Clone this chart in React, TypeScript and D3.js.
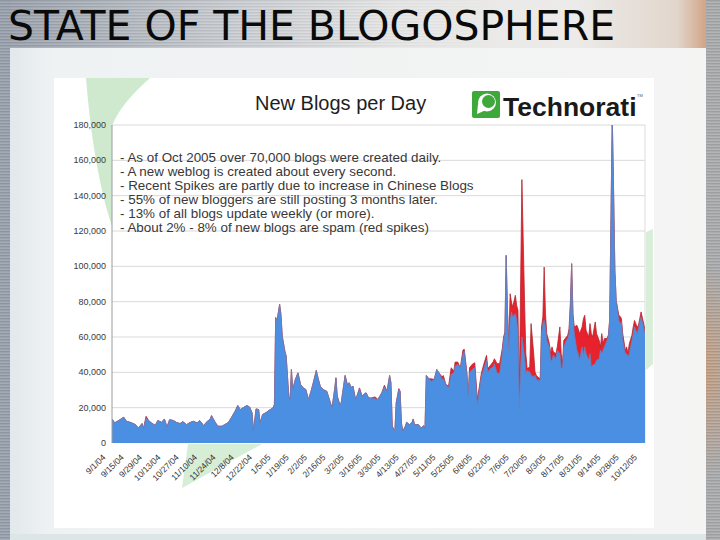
import React from 'react';
import * as d3 from 'd3';

// ---- data ----
const START = new Date(Date.UTC(2004, 8, 1)); // 9/1/04
const dayIndex = [
  0, 2, 5, 9, 11, 14, 18, 20, 23, 24, 26, 28, 30, 33, 35, 38, 40, 42, 44, 47,
  49, 52, 54, 57, 59, 62, 65, 67, 70, 72, 75, 76, 79, 81, 84, 86, 89, 91, 94, 96,
  98, 100, 103, 105, 107, 108, 110, 112, 113, 115, 118, 120, 123, 124, 125, 126, 128, 129, 130, 132,
  133, 135, 136, 137, 138, 140, 142, 144, 146, 148, 150, 152, 154, 156, 157, 159, 161, 164, 166, 168,
  170, 171, 172, 174, 175, 178, 180, 181, 183, 184, 186, 187, 189, 191, 192, 194, 196, 198, 201, 203,
  206, 208, 210, 212, 213, 214, 216, 217, 219, 220, 221, 222, 224, 225, 227, 229, 230, 231, 234, 236,
  238, 239, 240, 242, 244, 246, 248, 250, 252, 253, 255, 257, 259, 261, 262, 264, 266, 268, 269, 271,
  272, 273, 275, 277, 279, 282, 284, 286, 287, 289, 291, 292, 294, 296, 298, 299, 300, 301, 302, 303,
  304, 305, 306, 308, 309, 310, 311, 312, 313, 315, 316, 317, 319, 320, 322, 323, 324, 325, 327, 328,
  329, 330, 331, 332, 334, 335, 336, 337, 339, 340, 342, 343, 344, 345, 347, 348, 349, 350, 351, 352,
  353, 355, 356, 357, 359, 360, 361, 362, 364, 365, 366, 367, 369, 370, 372, 373, 374, 375, 376, 378,
  379, 380, 381, 382, 383, 384, 385, 387, 388, 389, 390, 392, 393, 394, 395, 397, 398, 399, 401, 402,
  403, 404, 406, 407,
];
// new blogs per day, without spam (blue)
const newBlogs = [
  13600, 11400, 12700, 14600, 12300, 11700, 10400, 8500, 11000, 8000, 14000, 12700, 11400, 10000, 12700, 11700, 13600, 9100, 13200, 12700,
  11700, 11000, 12100, 10400, 11400, 12300, 11400, 12700, 9800, 11700, 13600, 15500, 11400, 9500, 9500, 10400, 11700, 14200, 18000, 21200,
  18900, 19900, 21200, 20400, 17000, 6600, 19300, 18900, 11400, 16100, 17400, 18500, 19900, 21800, 71000, 69100, 78500, 72800, 60500, 52000,
  49200, 26500, 24600, 41600, 30300, 36000, 39700, 33100, 31200, 30300, 24600, 29300, 35000, 41100, 37800, 32200, 30300, 29300, 24600, 19900,
  30300, 36900, 26500, 21800, 22700, 38200, 32200, 34100, 31200, 32200, 24600, 26500, 30700, 26500, 27400, 28400, 25500, 25500, 25000, 24600,
  28400, 31800, 29300, 38200, 34100, 9500, 6600, 22700, 30300, 29300, 11400, 6600, 9500, 11700, 10400, 11400, 13600, 10400, 10400, 8500,
  9800, 8500, 38200, 36300, 35000, 36000, 41600, 39400, 36000, 36300, 33100, 31200, 38800, 39700, 43500, 44500, 42600, 50100, 52000, 38800,
  26500, 39700, 41600, 42600, 21800, 37400, 42100, 46800, 40200, 42100, 43000, 44900, 39600, 39300, 50600, 58100, 61900, 106200, 73200, 52500,
  69400, 74200, 71300, 73200, 69400, 61900, 20400, 41100, 60000, 48700, 39300, 41100, 40200, 38300, 37400, 38300, 36400, 35500, 35500, 61900,
  67600, 69400, 65700, 58100, 54400, 46800, 46800, 49600, 47700, 52500, 50600, 42100, 43000, 54400, 58100, 59100, 61900, 77000, 101500, 71300,
  61900, 52500, 50600, 46800, 54400, 49600, 54400, 50600, 46800, 50600, 43000, 44000, 44900, 46800, 47700, 52500, 50600, 52500, 54400, 58100,
  60000, 69400, 126100, 185000, 143000, 97800, 80800, 69400, 67600, 68500, 58100, 50600, 50600, 48700, 50600, 58100, 61900, 65700, 61900, 64700,
  68500, 71300, 65700, 61900,
];
// all new blogs per day, spam included (top of red)
const withSpam = [
  13600, 11400, 12700, 14600, 12300, 11700, 10400, 8500, 11000, 8000, 15100, 12700, 11400, 10000, 12700, 11700, 13600, 9100, 13200, 12700,
  11700, 11000, 12100, 10400, 11400, 12300, 11400, 12700, 9800, 11700, 13600, 15500, 11400, 9500, 9500, 10400, 11700, 14200, 18000, 21200,
  18900, 19900, 21200, 20400, 17000, 6600, 19300, 18900, 11400, 16100, 17400, 18500, 19900, 21800, 71000, 69100, 78500, 72800, 60500, 52000,
  49200, 26500, 24600, 41600, 30300, 36000, 39700, 33100, 31200, 30300, 24600, 29300, 35000, 41100, 37800, 32200, 30300, 29300, 24600, 19900,
  30300, 36900, 26500, 21800, 22700, 38200, 32200, 34100, 31200, 32200, 24600, 26500, 31200, 26500, 27400, 28400, 25500, 25500, 26100, 24600,
  28400, 32700, 29300, 38200, 34100, 9500, 6600, 22700, 30800, 29300, 11400, 6600, 9500, 11700, 10400, 11400, 13600, 10400, 10400, 8500,
  9800, 8500, 38200, 36300, 36300, 36000, 41600, 39400, 37500, 38200, 33100, 32200, 42600, 40700, 45800, 45800, 42600, 52600, 53000, 39700,
  26500, 42600, 44500, 45400, 24600, 39300, 44900, 49600, 42100, 44000, 45900, 47700, 44900, 44900, 53400, 60000, 62800, 106200, 75100, 56200,
  84500, 79800, 77000, 83600, 77900, 75100, 27900, 88300, 149100, 80800, 50600, 42100, 43000, 67600, 50600, 40200, 38300, 37400, 36400, 65700,
  71300, 99600, 73200, 61900, 56200, 50600, 54400, 51500, 50600, 54400, 65700, 50600, 44900, 58100, 60000, 61000, 64700, 78900, 101500, 73200,
  65700, 66600, 64700, 61900, 65700, 70400, 72300, 63800, 60000, 67600, 61900, 60000, 68500, 61900, 58100, 54400, 61900, 56200, 59100, 59100,
  61000, 69400, 126100, 185000, 143000, 97800, 80800, 72300, 71700, 70400, 61900, 52500, 54400, 50600, 56200, 61000, 65700, 69400, 65700, 66600,
  70400, 74200, 67600, 63800,
];
const xTickLabels = [
  '9/1/04', '9/15/04', '9/29/04', '10/13/04', '10/27/04', '11/10/04', '11/24/04', '12/8/04', '12/22/04', '1/5/05',
  '1/19/05', '2/2/05', '2/16/05', '3/2/05', '3/16/05', '3/30/05', '4/13/05', '4/27/05', '5/11/05', '5/25/05',
  '6/8/05', '6/22/05', '7/6/05', '7/20/05', '8/3/05', '8/17/05', '8/31/05', '9/14/05', '9/28/05', '10/12/05',
];
const yTicks = [0, 20000, 40000, 60000, 80000, 100000, 120000, 140000, 160000, 180000];
const notes = [
  '- As of Oct 2005 over 70,000 blogs were created daily.',
  '- A new weblog is created about every second.',
  '- Recent Spikes are partly due to increase in Chinese Blogs',
  '- 55% of new bloggers are still posting 3 months later.',
  '- 13% of all blogs update weekly (or more).',
  '- About 2% - 8% of new blogs are spam (red spikes)',
];
const slideTitle = 'STATE OF THE BLOGOSPHERE';
const chartTitle = 'New Blogs per Day';
const brand = 'Technorati';

type Row = { date: Date; blue: number; total: number };

export default function App() {
  const W = 720, H = 540;
  const plot = { left: 112, right: 645, top: 125, bottom: 443 };
  const x = d3.scaleUtc()
    .domain([START, d3.utcDay.offset(START, 407)])
    .range([plot.left, plot.right]);
  const y = d3.scaleLinear().domain([0, 180000]).range([plot.bottom, plot.top]);
  const rows: Row[] = dayIndex.map((d, i) => ({
    date: d3.utcDay.offset(START, d), blue: newBlogs[i], total: withSpam[i],
  }));
  const areaTotal = d3.area<Row>().x(d => x(d.date)).y0(y(0)).y1(d => y(d.total));
  const areaBlue = d3.area<Row>().x(d => x(d.date)).y0(y(0)).y1(d => y(d.blue));
  const lineTotal = d3.line<Row>().x(d => x(d.date)).y(d => y(d.total));
  const lineBlue = d3.line<Row>().x(d => x(d.date)).y(d => y(d.blue));
  const fmt = d3.format(',');

  return (
    <svg width={W} height={H} style={{ position: 'absolute', left: 0, top: 0 }}
      xmlns="http://www.w3.org/2000/svg">
      <defs>
        <linearGradient id="bgGrad" x1="0" x2="1" y1="0" y2="0">
          <stop offset="0" stopColor="#8e98a6" />
          <stop offset="0.015" stopColor="#aab2bd" />
          <stop offset="0.05" stopColor="#d9dde1" />
          <stop offset="0.4" stopColor="#e8eaeb" />
          <stop offset="0.85" stopColor="#e9e6e3" />
          <stop offset="0.96" stopColor="#d2ccc7" />
          <stop offset="1" stopColor="#969a9d" />
        </linearGradient>
        <linearGradient id="topGrad" x1="0" x2="1" y1="0" y2="0">
          <stop offset="0" stopColor="#a4abb6" />
          <stop offset="0.3" stopColor="#cdd1d6" />
          <stop offset="0.55" stopColor="#e8e8e8" />
          <stop offset="0.8" stopColor="#ecebe9" />
          <stop offset="0.94" stopColor="#e2d6cc" />
          <stop offset="1" stopColor="#c98d66" />
        </linearGradient>
        <linearGradient id="panelGrad" x1="0" x2="1" y1="0" y2="0">
          <stop offset="0" stopColor="#e2e8eb" />
          <stop offset="0.06" stopColor="#eff2f3" />
          <stop offset="1" stopColor="#f4f4f3" />
        </linearGradient>
        <linearGradient id="fadeMask" x1="0" x2="1" y1="0" y2="0">
          <stop offset="0" stopColor="#fff" />
          <stop offset="0.45" stopColor="#888" />
          <stop offset="0.7" stopColor="#000" />
        </linearGradient>
        <mask id="topMask">
          <rect x={0} y={0} width={W} height={48} fill="url(#fadeMask)" />
        </mask>
        <radialGradient id="warm" cx="0.5" cy="0.5" r="0.5">
          <stop offset="0" stopColor="#d9a47c" stopOpacity="0.8" />
          <stop offset="1" stopColor="#d9a47c" stopOpacity="0" />
        </radialGradient>
        <pattern id="stripes" width="4" height="3" patternUnits="userSpaceOnUse">
          <rect width="4" height="1.4" fill="#000" opacity="0.13" />
        </pattern>
        <clipPath id="plotClip">
          <rect x={plot.left} y={plot.top} width={plot.right - plot.left} height={plot.bottom - plot.top} />
        </clipPath>
      </defs>

      {/* slide background */}
      <rect x={0} y={0} width={W} height={H} fill="url(#bgGrad)" />
      <rect x={0} y={0} width={W} height={48} fill="url(#topGrad)" />
      <rect x={0} y={0} width={W} height={48} fill="url(#stripes)" mask="url(#topMask)" />
      <rect x={0} y={0} width={10} height={H} fill="#a2abb7" />
      <rect x={0} y={0} width={10} height={H} fill="url(#stripes)" />
      <rect x={706} y={0} width={14} height={H} fill="#b3b5b7" />
      <ellipse cx={700} cy={370} rx={45} ry={110} fill="url(#warm)" />
      <rect x={706} y={0} width={14} height={H} fill="url(#stripes)" />
      <rect x={10} y={48} width={696} height={486} fill="url(#panelGrad)" />
      <rect x={10} y={534} width={696} height={6} fill="#dce6e6" />

      {/* chart card */}
      <rect x={54} y={78} width={600} height={450} fill="#ffffff" />
      <path d="M86,78 L150,78 C132,94 118,110 112,126 L112,226 C100,190 91,140 86,78 Z" fill="#cfe9cf" />
      <path d="M188,444 L262,444 L182,488 Z" fill="#d6edd6" />
      <path d="M646,232 L653,229 L653,364 L646,370 Z" fill="#d9eed9" />

      <text x={8} y={40} fontFamily="DejaVu Sans, Verdana, sans-serif" fontSize={41}
        textLength={607} lengthAdjust="spacingAndGlyphs" fill="#0a0a0a">{slideTitle}</text>

      <text x={255} y={110} fontFamily="Liberation Sans, Arial, sans-serif" fontSize={20} fill="#1e1e1e">{chartTitle}</text>

      {/* Technorati logo */}
      <g>
        <rect x={472} y={91} width={28} height={27} rx={2} fill="#3ea83a" />
        <circle cx={487} cy={102.5} r={9} fill="#ffffff" />
        <path d="M478,104 L477,114 L486,110 Z" fill="#ffffff" />
        <circle cx={488.5} cy={101.5} r={6.5} fill="#3ea83a" />
        <text x={503} y={116} fontFamily="Liberation Sans, Arial, sans-serif" fontWeight="bold"
          fontSize={26.5} fill="#1a1a1a">{brand}</text>
        <text x={637} y={97} fontFamily="Liberation Sans, Arial, sans-serif" fontSize={4} fill="#555">TM</text>
      </g>

      {/* grid */}
      {yTicks.filter(t => t > 0).map(t => (
        <line key={t} x1={plot.left} x2={plot.right} y1={y(t)} y2={y(t)} stroke="#d9d9d9" strokeWidth={1} />
      ))}
      <line x1={plot.right} x2={plot.right} y1={plot.top} y2={plot.bottom} stroke="#dddddd" strokeWidth={1} />

      {/* areas */}
      <g clipPath="url(#plotClip)">
        <path d={areaTotal(rows) || ''} fill="#e8222c" />
        <path d={lineTotal(rows) || ''} fill="none" stroke="#b5232f" strokeWidth={0.8} />
        <path d={areaBlue(rows) || ''} fill="#4b8fe2" />
        <path d={lineBlue(rows) || ''} fill="none" stroke="#6d7fb8" strokeWidth={0.8} />
      </g>

      {/* axes */}
      <line x1={plot.left} x2={plot.left} y1={plot.top} y2={plot.bottom} stroke="#9a9a9a" strokeWidth={1} />
      {yTicks.map(t => (
        <text key={t} x={106} y={y(t) + 3} textAnchor="end" fontFamily="Liberation Sans, Arial, sans-serif"
          fontSize={9} fill="#3a3a3a">{fmt(t)}</text>
      ))}
      {xTickLabels.map((lab, i) => {
        const tx = x(d3.utcDay.offset(START, 14 * i)) - 6;
        const ty = 458;
        return (
          <text key={lab} x={tx} y={ty} textAnchor="end" transform={`rotate(-45,${tx},${ty})`}
            fontFamily="Liberation Sans, Arial, sans-serif" fontSize={8.5} fill="#333">{lab}</text>
        );
      })}

      {/* notes */}
      {notes.map((n, i) => (
        <text key={i} x={120} y={162 + i * 14} fontFamily="Liberation Sans, Arial, sans-serif"
          fontSize={13.4} fill="#383838">{n}</text>
      ))}
    </svg>
  );
}
